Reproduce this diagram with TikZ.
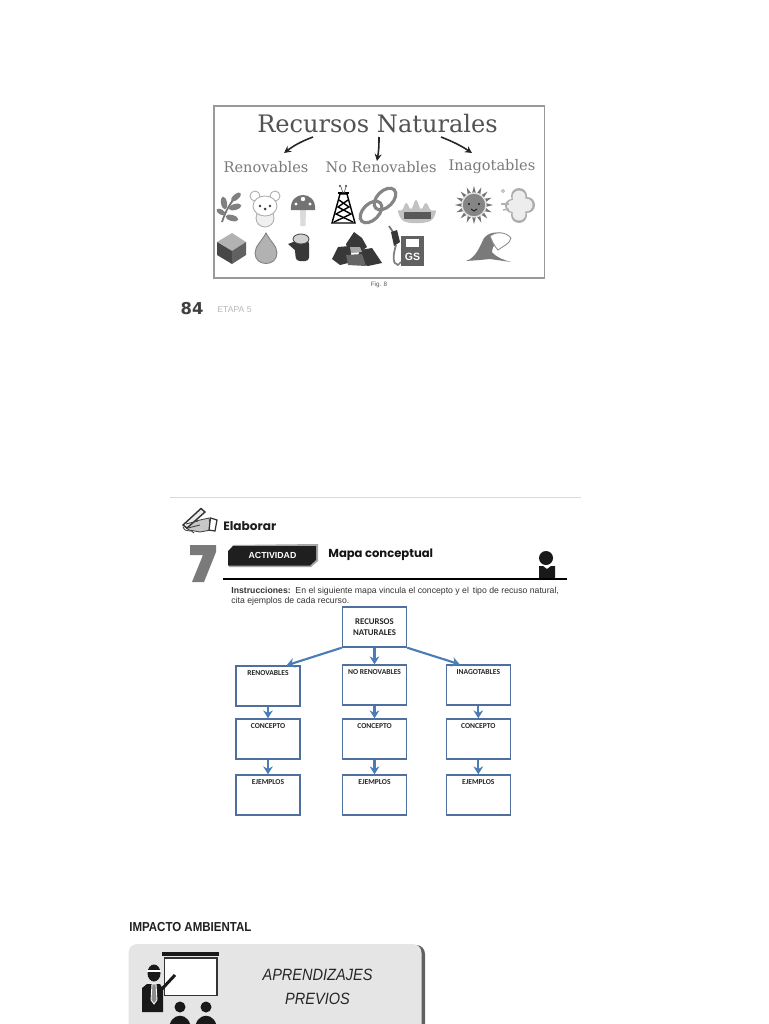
\documentclass[tikz,border=0pt]{standalone}
\usepackage{fontspec}
\setmainfont{Liberation Sans}
\newfontfamily\serifhead{DejaVu Serif}
\newfontfamily\boxfont{Carlito}
\newfontfamily\headfont{Poppins}
\newfontfamily\pagefont{DejaVu Sans}
\usetikzlibrary{arrows.meta}
\definecolor{linkblue}{HTML}{4A7DB8}
\definecolor{boxblue}{HTML}{4F6F9F}
\tikzset{
  conceptbox/.style={draw=boxblue,line width=0.8pt,fill=white,minimum width=1.28cm,minimum height=0.8cm,inner sep=0pt,
    font=\boxfont\bfseries\fontsize{4.3}{5.6}\selectfont,text=black!85},
  topbox/.style={conceptbox,text height=0.18cm,text depth=0.62cm},
  link/.style={draw=linkblue,line width=1.2pt,-{Stealth[length=4.5pt,width=5.5pt]}},
  handarrow/.style={line width=0.9pt,-{Stealth[length=4pt,width=4pt]},black!85},
  serifsub/.style={inner sep=0pt,text=black!52,font=\serifhead\fontsize{8.3}{10}\selectfont},
  leaf/.style={fill=black!50},
  linkring/.style={draw=black!48,line width=1.8pt},
  coalbit/.style={fill=black!78},
  sidetext/.style={inner sep=0pt,text=black!85,transform shape,xscale=0.89,font=\itshape\fontsize{9.3}{11}\selectfont}
}
\begin{document}
\begin{tikzpicture}[x=0.02cm,y=-0.02cm,>=Stealth]
  \clip (0,0) rectangle (768,1024);
  \fill [white] (0,0) rectangle (768,1024);
  % recursos
  \draw [black!40,line width=0.6pt] (214,106) rectangle (544.5,278);
  \node (title) [inner sep=0pt,text=black!68,font=\serifhead\fontsize{13.7}{15}\selectfont] at (377.5,124) {Recursos Naturales};
  \node (renov) [serifsub] at (266,167) {Renovables};
  \node (norenov) [serifsub] at (381,167) {No Renovables};
  \node (inagot) [serifsub] at (492,167) {Inagotables};
  \coordinate (t1) at (313,137);
  \coordinate (t2) at (379,137);
  \coordinate (t3) at (441,137);
  \coordinate (e1) at (284,153);
  \coordinate (e2) at (377,161);
  \coordinate (e3) at (472,153);
  \draw [handarrow] (t1) to [bend right=8] (e1);
  \draw [handarrow] (t2) to [bend left=5] (e2);
  \draw [handarrow] (t3) to [bend left=6] (e3);
  % fila 1
  \draw [black!55,line width=1pt] (222,222) .. controls (226,210) and (230,203) .. (239,193);
  \fill [leaf] (236,197) ellipse [x radius=6,y radius=2.8,rotate=40];
  \fill [leaf] (224,203) ellipse [x radius=6.5,y radius=3,rotate=100];
  \fill [leaf] (235,207) ellipse [x radius=6.5,y radius=3,rotate=15];
  \fill [leaf] (221,212) ellipse [x radius=5,y radius=2.6,rotate=-30];
  \fill [leaf] (232,218) ellipse [x radius=6.5,y radius=3,rotate=-15];
  \draw [black!32,fill=white,line width=0.5pt] (255,196) circle [radius=5];
  \draw [black!32,fill=white,line width=0.5pt] (275,196) circle [radius=5];
  \draw [black!32,fill=black!6,line width=0.5pt] (265,218) ellipse [x radius=9,y radius=9];
  \draw [black!32,fill=white,line width=0.5pt] (265,206) ellipse [x radius=12,y radius=10];
  \fill [black!75] (260,206) circle [radius=1.3];
  \fill [black!75] (270,206) circle [radius=1.3];
  \fill [black!75] (265,209) circle [radius=1.5];
  \fill [black!14] (300,210) -- (306,210) -- (305.5,226) -- (300.5,226) -- cycle;
  \fill [black!55] (291,210) .. controls (289,190) and (317,190) .. (315,210) -- cycle;
  \fill [white] (303,199) circle [radius=2.2];
  \fill [white] (296,204) circle [radius=1.6];
  \fill [white] (310,204) circle [radius=1.6];
  \draw [black,line width=0.8pt] (332,223) -- (340,194) -- (347,194) -- (355,223) -- cycle;
  \draw [black,line width=1pt] (338,193) -- (349,193);
  \draw [black,line width=0.8pt] (339,200) -- (349,207) -- (336,214) -- (353,222);
  \draw [black,line width=0.8pt] (348,200) -- (338,207) -- (351,214) -- (334,222);
  \fill [black!80] (340,186) circle [radius=1.2];
  \fill [black!80] (346,186) circle [radius=1.2];
  \draw [black!60] (343,193) -- (341,187);
  \draw [black!60] (344,193) -- (346,187);
  \draw [linkring] (371,212) ellipse [x radius=13,y radius=8,rotate=45];
  \draw [linkring] (385,199) ellipse [x radius=13,y radius=8,rotate=45];
  \fill [black!24,rounded corners=2pt] (397,209) -- (402,212) -- (406,201) -- (411,211) -- (416,198) -- (421,211) -- (426,201) -- (431,212) -- (437,209) -- (433,220) -- (425,223) -- (408,223) -- (401,220) -- cycle;
  \fill [black!65] (404,212) rectangle (431,219);
  \foreach \a in {0,22.5,...,337.5}
    \fill [black!55] ([shift={(\a+9:12)}]474,205) -- ([shift={(\a:19)}]474,205) -- ([shift={(\a-9:12)}]474,205) -- cycle;
  \draw [black!12,line width=0.8pt,fill=black!48] (474,205) circle [radius=12];
  \fill [black!90] (469,204) circle [radius=1.1];
  \fill [black!90] (479,204) circle [radius=1.1];
  \draw [black!90,line width=0.5pt] (471,209) -- (474,211) -- (477,209);
  \fill [black!32] (519,196) circle [radius=8];
  \fill [black!32] (527,205) circle [radius=8];
  \fill [black!32] (519,215) circle [radius=8];
  \fill [black!32] (512,206) circle [radius=7];
  \fill [black!7] (519,197) circle [radius=6.5];
  \fill [black!7] (526,205) circle [radius=6.5];
  \fill [black!7] (519,214) circle [radius=6.5];
  \fill [black!7] (513,206) circle [radius=6];
  \fill [black!7] (519,205) circle [radius=6];
  \draw [black!30,line width=0.8pt] (501,204) -- (509,204);
  \draw [black!30,line width=0.8pt] (503,210) -- (509,209);
  \draw [black!30,line width=0.5pt] (503,191) circle [radius=1.6];
  % fila 2
  \fill [black!30] (217,242) -- (232,233) -- (246,242) -- (232,251) -- cycle;
  \fill [black!72] (217,242) -- (232,251) -- (232,264) -- (217,255) -- cycle;
  \fill [black!62] (246,242) -- (232,251) -- (232,264) -- (246,255) -- cycle;
  \draw [black!50,line width=0.5pt,fill=black!30] (266,233) .. controls (262,241) and (255,246) .. (255,253) .. controls (255,267) and (277,267) .. (277,253) .. controls (277,246) and (270,241) .. (266,233) -- cycle;
  \fill [black!78,rounded corners=2pt] (294,240) -- (309,240) -- (309,261) -- (296,261) -- cycle;
  \fill [black!78] (288,244) -- (296,241) -- (296,251) -- cycle;
  \draw [black!70,fill=black!18,line width=0.5pt] (301,239) ellipse [x radius=8,y radius=5];
  \fill [coalbit] (332,259) -- (338,247) -- (350,246) -- (352,262) -- (340,265) -- cycle;
  \fill [coalbit] (346,244) -- (354,232) -- (362,238) -- (367,247) -- (360,252) -- (348,252) -- cycle;
  \fill [coalbit] (360,250) -- (372,248) -- (382,263) -- (368,266) -- (356,262) -- cycle;
  \fill [black!60] (346,255) -- (362,254) -- (366,266) -- (348,265) -- cycle;
  \fill [black!35] (350,247) -- (360,247) -- (362,252) -- (351,253) -- cycle;
  \draw [black!55,line width=1pt] (389,226) -- (393,232);
  \fill [black!78] (391,232) -- (397,230) -- (400,242) -- (394,246) -- cycle;
  \draw [black!50,line width=1pt] (396,245) .. controls (393,255) and (392,264) .. (398,265) -- (401,262);
  \fill [black!62] (401,236) rectangle (424,266);
  \fill [white] (406,239) rectangle (419,247);
  \node (gs) [inner sep=0pt,text=white,font=\bfseries\fontsize{6}{7}\selectfont] at (412.5,257) {GS};
  \fill [black!52] (466,261) .. controls (476,258) and (480,246) .. (484,238) .. controls (490,231) and (500,231) .. (508,236) .. controls (498,238) and (492,246) .. (492,252) .. controls (497,258) and (504,260) .. (511,262) -- (490,259) -- (480,260) -- cycle;
  \draw [black!45,line width=0.5pt,fill=white] (490,236) .. controls (497,231) and (506,232) .. (511,238) .. controls (510,244) and (503,246) .. (498,250) .. controls (494,246) and (492,241) .. (490,236) -- cycle;
  \node (figcap) [inner sep=0pt,text=black!65,font=\fontsize{3.6}{4}\selectfont] at (379,285) {Fig. 8};
  \node (pagenum) [inner sep=0pt,text=black!75,font=\pagefont\bfseries\fontsize{9.3}{12}\selectfont] at (192,309) {84};
  \node (etapa) [inner sep=0pt,text=black!28,font=\fontsize{4.9}{6}\selectfont] at (234.5,310) {ETAPA 5};
  % actividad
  \draw [black!15,line width=0.8pt] (170,497.5) -- (581,497.5);
  \draw [black!72,line width=0.5pt,fill=black!22] (191,522) -- (200,520) -- (209,518) -- (211,530) -- (200,532) -- (189,530) -- (184,526) -- cycle;
  \draw [black!80,line width=0.7pt,fill=white] (210.5,518) -- (217,520) -- (215,531) -- (209,530) -- cycle;
  \draw [black!80,line width=0.8pt,fill=black!8] (183,525) -- (201,508.5) -- (205,512) -- (187,528) -- cycle;
  \draw [black!72,line width=0.5pt] (186,524) -- (198,521) (188,528) -- (200,525);
  \draw [black!72,line width=0.5pt] (183,527) .. controls (186,534) and (191,528) .. (194,533);
  \node (elaborar) [inner sep=0pt,anchor=west,text=black!88,font=\headfont\bfseries\fontsize{6.9}{8}\selectfont] at (223,526) {Elaborar};
  \fill [black!52] (190,545) -- (216,545) -- (216,552) -- (204,582) -- (192,582) -- (203,555) -- (190,555) -- cycle;
  \fill [black!35] (229,551) -- (233,545) -- (318,544) -- (318,561) -- (311,567) -- (229,567) -- cycle;
  \fill [black!88] (228,551) -- (233,546) -- (316,546) -- (316,560) -- (310,565.5) -- (228,565.5) -- cycle;
  \node (actividad) [inner sep=0pt,text=white,font=\bfseries\fontsize{5}{6}\selectfont] at (272.5,555) {ACTIVIDAD};
  \node (mapa) [inner sep=0pt,anchor=west,text=black!92,font=\headfont\bfseries\fontsize{6.6}{9}\selectfont] at (328,555) {Mapa conceptual};
  \fill [black!90] (546,558) circle [radius=7];
  \fill [black!90] (539,566) -- (543,566) -- (547,569) -- (551,566) -- (555,566) -- (555,578) -- (539,578) -- cycle;
  \draw [black,line width=1.3pt] (223,579) -- (566.5,579);
  \node (instr) [inner sep=0pt,anchor=west,text=black!80,font=\fontsize{4.95}{6}\selectfont] at (231,591.5) {\textbf{Instrucciones:}\, En el siguiente mapa vincula el concepto y el\, tipo de recuso natural,};
  \node (instrb) [inner sep=0pt,anchor=west,text=black!80,font=\fontsize{4.95}{6}\selectfont] at (231,601) {cita ejemplos de cada recurso.};
  % mapa
  \node (root) [conceptbox,align=center,font=\boxfont\bfseries\fontsize{5}{6.3}\selectfont] at (374.5,627) {RECURSOS\\NATURALES};
  \node (renovbox) [topbox] at (268,686) {RENOVABLES};
  \node (norenovbox) [topbox] at (374.5,685) {NO RENOVABLES};
  \node (inagotbox) [topbox] at (478.3,685) {INAGOTABLES};
  \node (concepa) [topbox] at (268,739) {CONCEPTO};
  \node (concepb) [topbox] at (374.5,739) {CONCEPTO};
  \node (concepc) [topbox] at (478.3,739) {CONCEPTO};
  \node (ejema) [topbox] at (268,795) {EJEMPLOS};
  \node (ejemb) [topbox] at (374.5,795) {EJEMPLOS};
  \node (ejemc) [topbox] at (478.3,795) {EJEMPLOS};
  \draw [link] (root.south west) -- (renovbox.48);
  \draw [link] (root.south) -- (norenovbox.north);
  \draw [link] (root.south east) -- (inagotbox.132);
  \draw [link] (renovbox.south) -- (concepa.north);
  \draw [link] (norenovbox.south) -- (concepb.north);
  \draw [link] (inagotbox.south) -- (concepc.north);
  \draw [link] (concepa.south) -- (ejema.north);
  \draw [link] (concepb.south) -- (ejemb.north);
  \draw [link] (concepc.south) -- (ejemc.north);
  % impacto
  \node (impacto) [inner sep=0pt,anchor=west,text=black!88,transform shape,xscale=0.885,font=\bfseries\fontsize{7.4}{9}\selectfont] at (129,927) {IMPACTO AMBIENTAL};
  \fill [black!62,rounded corners=5pt] (132,945) rectangle (425,1040);
  \fill [black!10,rounded corners=5pt] (128.5,944) rectangle (421.5,1040);
  \node (aprend) [sidetext] at (317.5,975) {APRENDIZAJES};
  \node (previos) [sidetext] at (317.5,999) {PREVIOS};
  \fill [black!90] (162,952) rectangle (219,955.5);
  \draw [black!80,fill=white,line width=0.6pt] (164.5,958) rectangle (217,995.5);
  \fill [black!90] (154,973) ellipse [x radius=6.5,y radius=8.5];
  \fill [black!90] (142,1012) -- (142,988) -- (147,984) -- (160,984) -- (163,989) -- (163,1012) -- cycle;
  \draw [black!90,line width=1.7pt] (161,990) -- (175,975);
  \draw [white,line width=0.6pt] (147,971) -- (161,971);
  \draw [white,line width=0.5pt,fill=black!45] (152,984) -- (156,984) -- (157,1000) -- (154,1004) -- (151,1000) -- cycle;
  \fill [black!90] (180,1007) circle [radius=5.5];
  \fill [black!90] (206,1007) circle [radius=5.5];
  \fill [black!90] (169,1030) .. controls (169,1011) and (191,1011) .. (191,1030) -- cycle;
  \fill [black!90] (195,1030) .. controls (195,1011) and (217,1011) .. (217,1030) -- cycle;
\end{tikzpicture}
\end{document}
